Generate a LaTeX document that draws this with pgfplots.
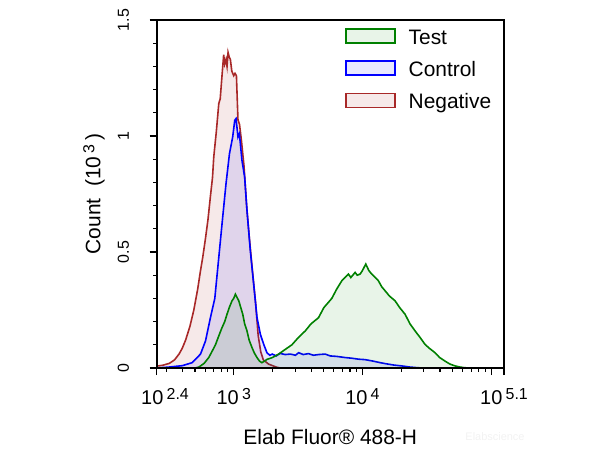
\documentclass[border=0pt]{standalone}
\usepackage{pgfplots}
\pgfplotsset{compat=1.18}
\usepackage{fontspec}
\setmainfont{Liberation Sans}
\definecolor{testc}{RGB}{0,128,0}
\definecolor{ctrlc}{RGB}{0,0,255}
\definecolor{negc}{RGB}{168,40,40}
\newcommand\xl[1]{10\,\raisebox{5bp}{\fontsize{16}{16}\selectfont #1}}

\pgfplotstableread{
lx y
2.400 0.008
2.450 0.012
2.500 0.020
2.540 0.035
2.575 0.060
2.600 0.085
2.626 0.120
2.660 0.180
2.690 0.250
2.720 0.340
2.742 0.420
2.760 0.480
2.781 0.560
2.800 0.640
2.819 0.740
2.835 0.820
2.845 0.910
2.865 1.020
2.884 1.140
2.895 1.160
2.909 1.260
2.922 1.350
2.930 1.310
2.940 1.330
2.948 1.300
2.956 1.360
2.965 1.340
2.974 1.330
2.985 1.280
3.000 1.260
3.010 1.270
3.021 1.260
3.033 1.070
3.045 1.050
3.060 0.980
3.080 0.870
3.100 0.700
3.120 0.570
3.140 0.450
3.170 0.280
3.190 0.140
3.210 0.070
3.230 0.035
3.270 0.017
3.330 0.004
3.360 0.000
}\negdata

\pgfplotstableread{
lx y
2.400 0.000
2.496 0.004
2.600 0.010
2.677 0.023
2.742 0.060
2.781 0.117
2.819 0.217
2.853 0.300
2.884 0.477
2.909 0.620
2.940 0.794
2.967 0.924
2.992 0.996
3.008 1.068
3.018 1.075
3.033 0.996
3.044 1.010
3.064 0.895
3.085 0.823
3.103 0.680
3.129 0.506
3.155 0.362
3.181 0.217
3.207 0.145
3.233 0.102
3.258 0.066
3.280 0.055
3.300 0.060
3.330 0.052
3.360 0.063
3.400 0.058
3.440 0.060
3.480 0.055
3.504 0.066
3.540 0.058
3.580 0.062
3.620 0.055
3.660 0.058
3.711 0.060
3.750 0.052
3.800 0.050
3.866 0.045
3.920 0.042
3.970 0.038
4.021 0.036
4.080 0.030
4.130 0.024
4.176 0.019
4.240 0.013
4.305 0.009
4.370 0.004
4.434 0.001
4.500 0.000
}\ctrldata

\pgfplotstableread{
lx y
2.700 0.000
2.729 0.004
2.770 0.020
2.806 0.045
2.830 0.070
2.858 0.100
2.885 0.140
2.909 0.174
2.930 0.200
2.948 0.232
2.965 0.260
2.987 0.290
3.000 0.300
3.013 0.318
3.025 0.305
3.039 0.290
3.055 0.260
3.070 0.232
3.085 0.190
3.103 0.160
3.120 0.120
3.142 0.088
3.160 0.065
3.181 0.045
3.200 0.030
3.219 0.023
3.240 0.030
3.258 0.037
3.300 0.045
3.349 0.060
3.400 0.080
3.452 0.100
3.500 0.130
3.556 0.160
3.600 0.190
3.659 0.217
3.700 0.260
3.762 0.300
3.800 0.340
3.840 0.376
3.865 0.390
3.891 0.405
3.910 0.390
3.943 0.412
3.960 0.400
3.982 0.405
4.000 0.420
4.026 0.448
4.050 0.420
4.072 0.405
4.100 0.390
4.124 0.376
4.150 0.350
4.176 0.333
4.210 0.310
4.253 0.290
4.290 0.260
4.331 0.232
4.370 0.190
4.409 0.160
4.450 0.130
4.486 0.102
4.520 0.085
4.564 0.066
4.600 0.045
4.641 0.030
4.680 0.017
4.719 0.009
4.760 0.004
4.796 0.001
4.850 0.000
}\testdata

\begin{document}
\begin{tikzpicture}
\path[use as bounding box] (0,0) rectangle (600bp,450bp);
\begin{axis}[
  at={(156.5bp,82bp)}, anchor=south west,
  width=347.5bp, height=348bp, scale only axis,
  xmin=2.4, xmax=5.1, ymin=0, ymax=1.5,
  axis on top=true,
  axis line style={line width=2bp},
  tick style={line width=1.2bp, black},
  tick align=outside,
  xtick pos=bottom, ytick pos=left,
  major tick length=7bp, minor tick length=3.5bp,
  xtick={2.4,3,4,5,5.1},
  xticklabels={\hspace*{17bp}\xl{2.4}, \xl{3}, \xl{4}, {}, \xl{5.1}},
  minor xtick={2.477,2.602,2.699,2.778,2.845,2.903,2.954,3.301,3.477,3.602,3.699,3.778,3.845,3.903,3.954,4.301,4.477,4.602,4.699,4.778,4.845,4.903,4.954},
  ytick={0,0.5,1,1.5}, yticklabels={0,0.5,1,1.5},
  minor ytick={0.1,0.2,0.3,0.4,0.6,0.7,0.8,0.9,1.1,1.2,1.3,1.4},
  xticklabel style={font=\fontsize{20}{20}\selectfont, yshift=-10bp},
  yticklabel style={font=\fontsize{16}{16}\selectfont, xshift=-17bp, rotate=90, anchor=south},
  xlabel={Elab Fluor® 488-H},
  xlabel style={font=\fontsize{21}{21}\selectfont, at={(axis description cs:0.5,-0.198)}, anchor=center},
  ylabel={Count\ \ (10\,\raisebox{6bp}{\fontsize{16}{16}\selectfont 3}\,)},
  ylabel style={font=\fontsize{21}{21}\selectfont, at={(axis description cs:-0.18,0.5)}, anchor=center},
  legend style={at={(axis description cs:0.534,0.983)}, anchor=north west, draw=none, fill=none,
    font=\fontsize{21}{21}\selectfont, row sep=12bp, column sep=13bp,
    nodes={inner sep=0pt, text height=15bp, text depth=4bp}},
  legend cell align=left,
  reverse legend,
  legend image code/.code={\draw[#1, line width=1.4bp] (0bp,-4bp) rectangle (49bp,10bp);},
]
\addplot[draw=negc, fill=negc, fill opacity=0.10, line width=1.6bp] table[x=lx,y=y] {\negdata} \closedcycle;
\addlegendentry{Negative}
\addplot[draw=ctrlc, fill=ctrlc, fill opacity=0.09, line width=1.6bp] table[x=lx,y=y] {\ctrldata} \closedcycle;
\addlegendentry{Control}
\addplot[draw=testc, fill=testc, fill opacity=0.09, line width=1.6bp] table[x=lx,y=y] {\testdata} \closedcycle;
\addlegendentry{Test}
\end{axis}
\node[text=black!5, font=\fontsize{11}{11}\selectfont] at (495bp,13bp) {Elabscience};
\end{tikzpicture}
\end{document}
